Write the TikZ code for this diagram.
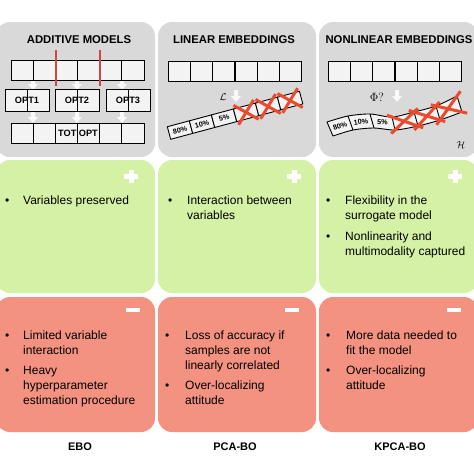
\documentclass[tikz,border=0pt]{standalone}
\usepackage{fontspec}
\setmainfont{Liberation Sans}
\usepackage{amsmath}
\usetikzlibrary{calc}
\definecolor{panelgray}{HTML}{D9D9D9}
\definecolor{prosgreen}{HTML}{D5F1A6}
\definecolor{conssalmon}{HTML}{F39281}
\definecolor{cellfill}{HTML}{F3F3F3}
\definecolor{splitred}{HTML}{D2463C}
\definecolor{crossred}{HTML}{EC4A2C}

\tikzset{
  panel/.style={rounded corners=14pt},
  cell/.style={draw=black, line width=0.9pt, fill=cellfill, minimum width=22.2pt, minimum height=20pt, inner sep=0pt},
  optcell/.style={cell, minimum width=22pt, minimum height=22pt},
  heading/.style={font=\fontsize{11.3}{13}\selectfont\bfseries},
  boxtext/.style={font=\fontsize{9.2}{11}\selectfont\bfseries, inner sep=0pt},
  pct/.style={font=\fontsize{7.2}{8}\selectfont\bfseries, inner sep=0pt},
  itemtext/.style={font=\fontsize{12}{15.3}\selectfont, anchor=base west, align=left, inner sep=0pt},
  dot/.style={font=\fontsize{12}{15.3}\selectfont, anchor=base west, inner sep=0pt},
  method/.style={font=\fontsize{11}{13}\selectfont\bfseries},
  cross/.style={crossred, line width=3pt},
  fatarrow/.pic={\fill[white, opacity=0.85] (-2,-6) -- (2,-6) -- (2,0) -- (5,0) -- (0,6) -- (-5,0) -- (-2,0) -- cycle;}
}

\begin{document}
\begin{tikzpicture}[x=1pt, y=-1pt]
    \useasboundingbox (0,0) rectangle (474,474);

    % Panels
    \foreach \x/\w in {-4/155, 158/316, 319/478} {
        \fill[panelgray, panel] (\x,22) rectangle (\w,157);
        \fill[prosgreen, panel] (\x,160) rectangle (\w,293);
        \fill[conssalmon, panel] (\x,297) rectangle (\w,432);
    }

    % Titles
    \node[heading] (addtitle) at (79,40) {ADDITIVE MODELS};
    \node[heading] (lintitle) at (234,40) {LINEAR EMBEDDINGS};
    \node[heading] (nltitle) at (399,40) {NONLINEAR EMBEDDINGS};

    % Additive models: arrows behind the cells
    \foreach \x in {33,77,122} {
        \pic at (\x,84) {fatarrow};
        \pic at (\x,117) {fatarrow};
    }
    \foreach \i in {0,...,5} {
        \node[cell] (a-\i) at (23+22*\i,70) {};
        \node[cell] (c-\i) at (23+22*\i,133) {};
    }
    \foreach \x [count=\k] in {16,66,117} {
        \node[optcell] (o\k l) at (\x,100) {};
        \node[optcell] (o\k r) at (\x+22,100) {};
        \node[boxtext] (o\k) at (\x+11,100) {OPT\k};
    }
    \node[boxtext] (totopt) at (78,133) {TOT OPT};
    \draw[splitred, line width=1.2pt] (56,50) -- (56,86);
    \draw[splitred, line width=1.2pt] (100,50) -- (100,86);

    % Linear embeddings
    \foreach \i in {0,...,5} {
        \node[cell] (l-\i) at (179.2+22.3*\i,71) {};
    }
    \pic at (236,96) {fatarrow};
    \node (lmap) at (223,97) {$\mathcal{L}$};
    \begin{scope}[shift={(169,133)}, rotate=15]
        \foreach \i in {0,...,5} {
            \draw[line width=0.9pt, fill=cellfill] (22.8*\i,-6.5) rectangle (22.8*\i+22.8,6.5);
        }
        \foreach \t [count=\k from 0] in {80\%, 10\%, 5\%} {
            \node[pct, transform shape] (lp\k) at (22.8*\k+11.4,0) {\t};
        }
        \foreach \i in {3,4,5} {
            \draw[cross] (22.8*\i+1,-10) -- (22.8*\i+21.8,10);
            \draw[cross] (22.8*\i+1,10) -- (22.8*\i+21.8,-10);
        }
    \end{scope}

    % Nonlinear embeddings
    \foreach \i in {0,...,5} {
        \node[cell] (n-\i) at (339.2+22.3*\i,71) {};
    }
    \pic at (397,96) {fatarrow};
    \node[font=\large] (phimap) at (377,97) {$\Phi?$};
    \node (hspace) at (461,145) {$\mathcal{H}$};
    \foreach \n/\p in {0/{327,122}, 1/{348,116}, 2/{370,114}, 3/{392,117}, 4/{414,112}, 5/{436,106}, 6/{457,96}} {
        \coordinate (t\n) at (\p);
    }
    \foreach \n/\p in {0/{333,136}, 1/{353,130}, 2/{374,128}, 3/{395,130}, 4/{418,126}, 5/{440,120}, 6/{462,112}} {
        \coordinate (b\n) at (\p);
    }
    \filldraw[line width=0.9pt, fill=cellfill, line join=round]
        plot[smooth] coordinates {(t0) (t1) (t2) (t3) (t4) (t5) (t6)}
        -- plot[smooth] coordinates {(b6) (b5) (b4) (b3) (b2) (b1) (b0)} -- cycle;
    \foreach \i in {1,...,5} {
        \draw[line width=0.9pt] (t\i) -- (b\i);
    }
    \node[pct, rotate=20] (np0) at ($(t0)!0.5!(b1)$) {80\%};
    \node[pct, rotate=8] (np1) at ($(t1)!0.5!(b2)$) {10\%};
    \node[pct, rotate=-3] (np2) at ($(t2)!0.5!(b3)$) {5\%};
    \foreach \i/\j in {3/4, 4/5, 5/6} {
        \draw[cross] ($(t\i)!-0.2!(b\j)$) -- ($(b\j)!-0.2!(t\i)$);
        \draw[cross] ($(b\i)!-0.2!(t\j)$) -- ($(t\j)!-0.2!(b\i)$);
    }

    % Plus and minus marks
    \foreach \x in {131,294,455} {
        \fill[white] (\x-7,173.5) rectangle (\x+7,178.5);
        \fill[white] (\x-2.5,169.5) rectangle (\x+2.5,182.5);
    }
    \foreach \x in {133,292,454} {
        \fill[white] (\x-7,307.5) rectangle (\x+7,312);
    }

    % Advantages (nodes sit on the baseline of their last line)
    \node[dot] (pd1) at (5,204) {\textbullet};
    \node[itemtext] (p1) at (23,204) {Variables preserved};
    \node[dot] (pd2) at (168,204) {\textbullet};
    \node[itemtext] (p2) at (187,219.3) {Interaction between\\variables};
    \node[dot] (pd3) at (326,204) {\textbullet};
    \node[itemtext] (p3) at (345,219.3) {Flexibility in the\\surrogate model};
    \node[dot] (pd4) at (326,240) {\textbullet};
    \node[itemtext] (p4) at (345,255.3) {Nonlinearity and\\multimodality captured};

    % Drawbacks
    \node[dot] (md1) at (5,339) {\textbullet};
    \node[itemtext] (m1) at (23,354.3) {Limited variable\\interaction};
    \node[dot] (md2) at (5,374) {\textbullet};
    \node[itemtext] (m2) at (23,404.6) {Heavy\\hyperparameter\\estimation procedure};
    \node[dot] (md3) at (165,339) {\textbullet};
    \node[itemtext] (m3) at (185,369.6) {Loss of accuracy if\\samples are not\\linearly correlated};
    \node[dot] (md4) at (165,389) {\textbullet};
    \node[itemtext] (m4) at (185,404.3) {Over-localizing\\attitude};
    \node[dot] (md5) at (326,339) {\textbullet};
    \node[itemtext] (m5) at (346,354.3) {More data needed to\\fit the model};
    \node[dot] (md6) at (326,374) {\textbullet};
    \node[itemtext] (m6) at (346,389.3) {Over-localizing\\attitude};

    % Methods
    \node[method] (ebo) at (80,447) {EBO};
    \node[method] (pcabo) at (235,447) {PCA-BO};
    \node[method] (kpcabo) at (400,447) {KPCA-BO};
\end{tikzpicture}
\end{document}
